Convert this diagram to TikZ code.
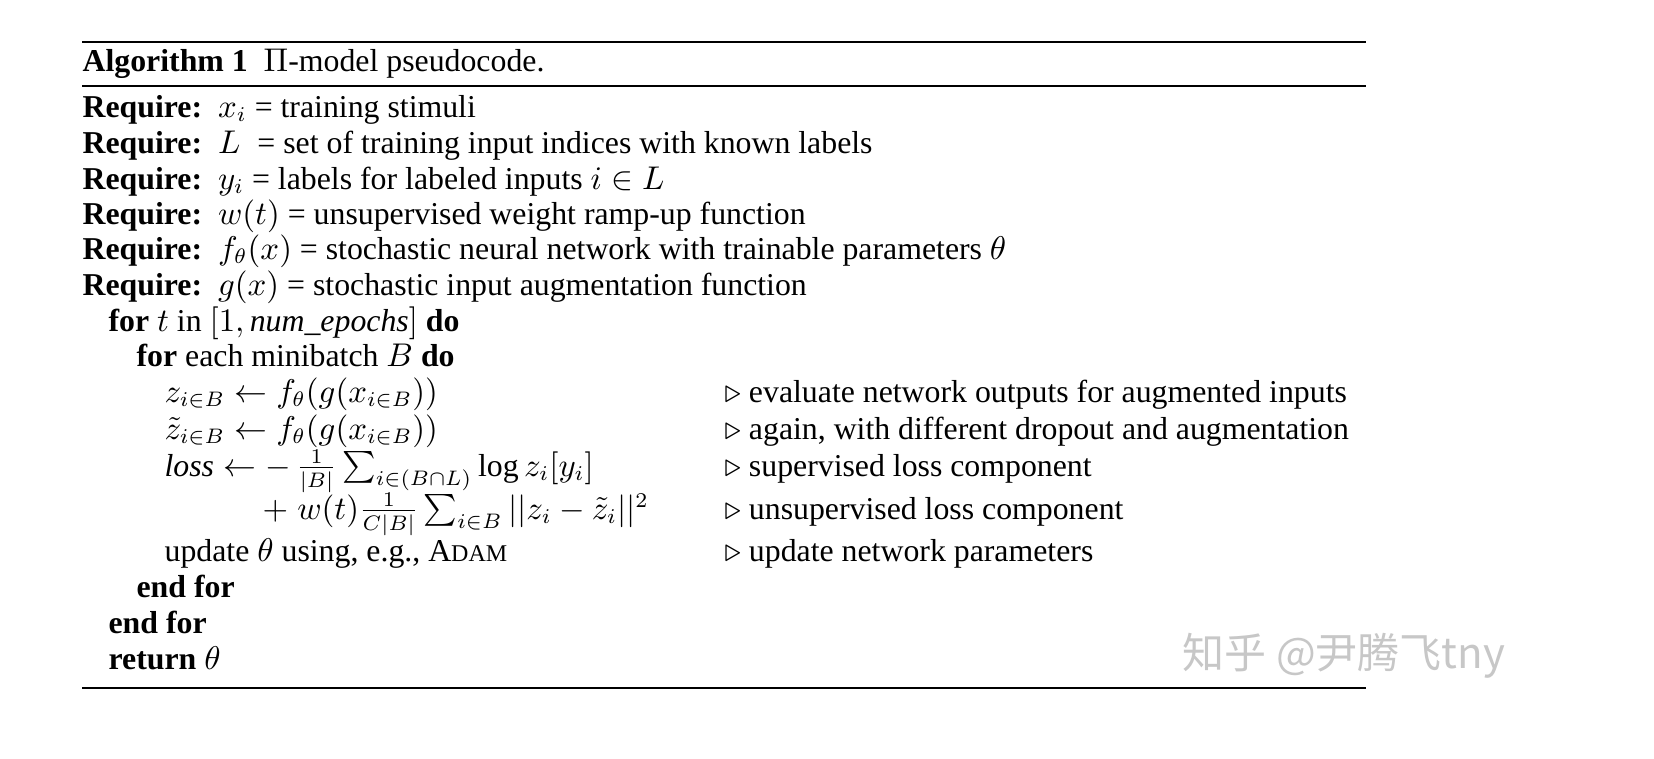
\documentclass[tikz,border=0pt]{standalone}
\usepackage{amsmath,amssymb}
\usepackage{fontspec}
\setmainfont{Liberation Serif}
\newfontfamily\cjk{Noto Sans CJK SC}
\begin{document}
\begin{tikzpicture}[x=0.3333pt,y=-0.3333pt,
  ln/.style={anchor=base west,inner sep=0pt,font=\fontsize{10.6}{12}\selectfont},
  rulethick/.style={line width=0.8pt},
  rulethin/.style={line width=0.4pt}]
\useasboundingbox (0,0) rectangle (1654,758);
\draw[rulethick] (82,42) -- (1366,42);
\node[ln] (title) at (82,71) {\textbf{Algorithm 1}\ \ $\Pi$-model pseudocode.};
\draw[rulethin] (82,86) -- (1366,86);
\node[ln] (r1) at (82,117) {\textbf{Require:}\ \ $x_i$ = training stimuli};
\node[ln] (r2) at (82,153) {\textbf{Require:}\ \ $L\;$ = set of training input indices with known labels};
\node[ln] (r3) at (82,189) {\textbf{Require:}\ \ $y_i$ = labels for labeled inputs $i\in L$};
\node[ln] (r4) at (82,224) {\textbf{Require:}\ \ $w(t)$ = unsupervised weight ramp-up function};
\node[ln] (r5) at (82,259) {\textbf{Require:}\ \ $f_\theta(x)$ = stochastic neural network with trainable parameters $\theta$};
\node[ln] (r6) at (82,295) {\textbf{Require:}\ \ $g(x)$ = stochastic input augmentation function};
\node[ln] (f1) at (108,331) {\textbf{for} $t$ in $[1, \mathit{num\_epochs}]$ \textbf{do}};
\node[ln] (f2) at (136,366) {\textbf{for} each minibatch $B$ \textbf{do}};
\node[ln] (s1) at (164,402) {$z_{i\in B}\leftarrow f_\theta(g(x_{i\in B}))$};
\node[ln] (s2) at (164,439) {$\tilde z_{i\in B}\leftarrow f_\theta(g(x_{i\in B}))$};
\node[ln] (s3) at (164,476) {$\mathit{loss}\leftarrow -\,\frac{1}{|B|}\sum_{i\in(B\cap L)}\log z_i[y_i]$};
\node[ln] (s4) at (262,519) {$+\;w(t)\frac{1}{C|B|}\sum_{i\in B}||z_i-\tilde z_i||^2$};
\node[ln] (s5) at (164,561) {update $\theta$ using, e.g., A{\fontsize{8}{9}\selectfont DAM}};
\node[ln] (c1) at (724,402) {$\triangleright$ evaluate network outputs for augmented inputs};
\node[ln] (c2) at (724,439) {$\triangleright$ again, with different dropout and augmentation};
\node[ln] (c3) at (724,476) {$\triangleright$ supervised loss component};
\node[ln] (c4) at (724,519) {$\triangleright$ unsupervised loss component};
\node[ln] (c5) at (724,561) {$\triangleright$ update network parameters};
\node[ln] (e2) at (136,597) {\textbf{end for}};
\node[ln] (e1) at (108,633) {\textbf{end for}};
\node[ln] (ret) at (108,669) {\textbf{return} $\theta$};
\draw[rulethin] (82,688) -- (1366,688);
\node[ln,text=black!22,font=\fontsize{14}{16}\selectfont] (wm) at (1182,668) {\cjk 知乎\ @尹腾飞tny};
\end{tikzpicture}
\end{document}
